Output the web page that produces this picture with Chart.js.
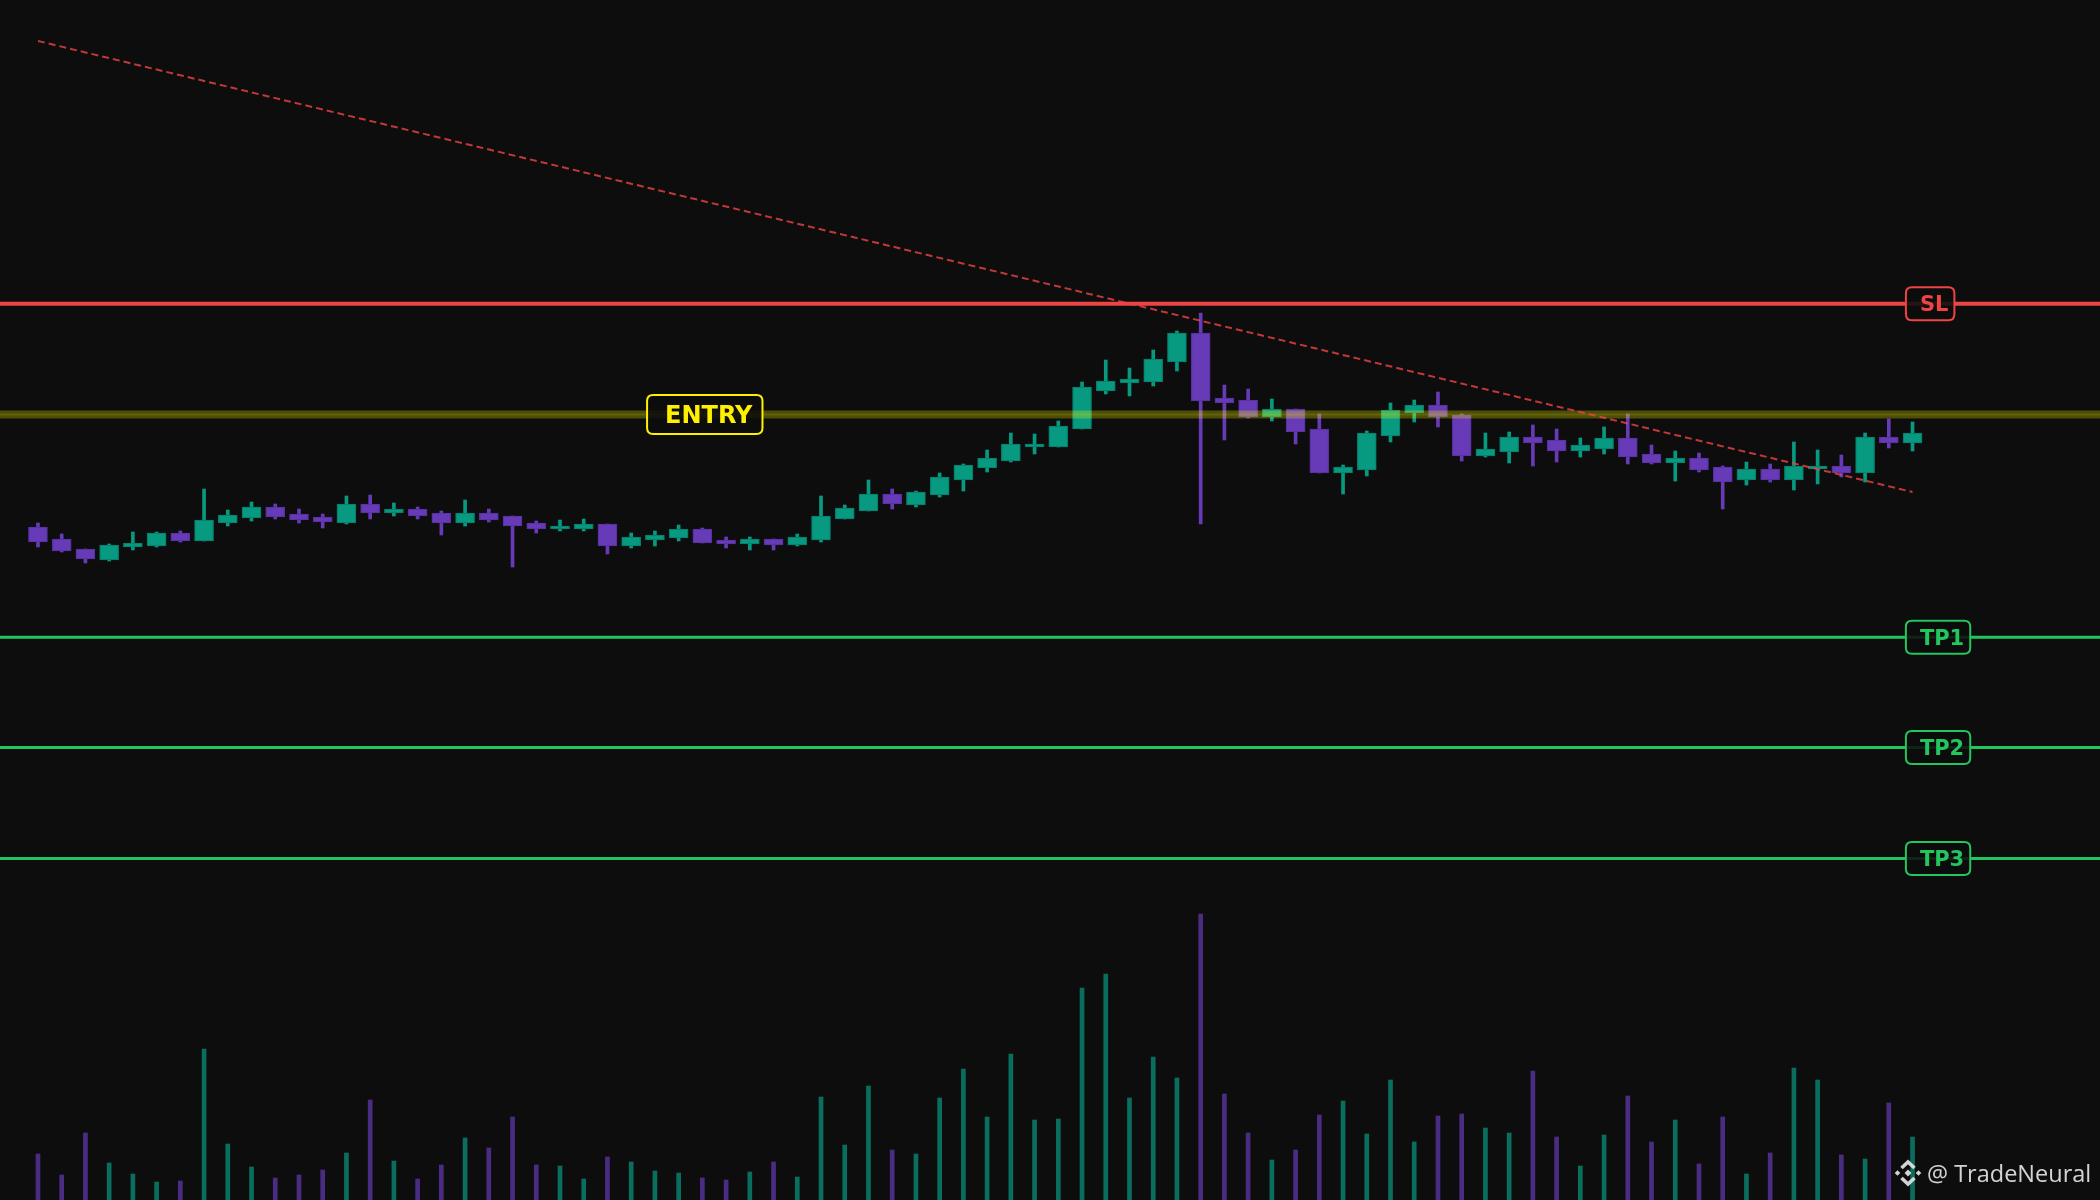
<!DOCTYPE html>
<html>
<head>
<meta charset="utf-8">
<title>TradeNeural setup</title>
<script src="https://cdn.jsdelivr.net/npm/chart.js@4.4.1/dist/chart.umd.min.js"></script>
<style>
  html, body { margin: 0; padding: 0; background: #0d0d0d; overflow: hidden; }
  #wrap { width: 2100px; height: 1200px; position: relative; }
</style>
</head>
<body>
<div id="wrap"><canvas id="chart"></canvas></div>
<script>
// OHLC per candle
const opens = [
  2.073, 2.061, 2.051, 2.040, 2.053, 2.054, 2.067, 2.059, 2.077, 2.082,
  2.093, 2.086, 2.083, 2.077, 2.096, 2.087, 2.091, 2.087, 2.077, 2.087,
  2.084, 2.077, 2.071, 2.071, 2.076, 2.054, 2.060, 2.062, 2.071, 2.060,
  2.056, 2.061, 2.055, 2.060, 2.081, 2.089, 2.106, 2.095, 2.105, 2.120,
  2.132, 2.139, 2.153, 2.153, 2.171, 2.209, 2.217, 2.218, 2.238, 2.267,
  2.202, 2.200, 2.183, 2.191, 2.171, 2.127, 2.130, 2.164, 2.187, 2.195,
  2.185, 2.144, 2.148, 2.163, 2.160, 2.149, 2.151, 2.162, 2.146, 2.137,
  2.142, 2.133, 2.120, 2.131, 2.120, 2.131, 2.134, 2.127, 2.163, 2.157
];
const highs = [
  2.077, 2.066, 2.051, 2.056, 2.068, 2.068, 2.069, 2.111, 2.090, 2.098,
  2.096, 2.091, 2.086, 2.104, 2.105, 2.097, 2.093, 2.089, 2.100, 2.091,
  2.084, 2.079, 2.080, 2.081, 2.076, 2.067, 2.069, 2.075, 2.072, 2.063,
  2.063, 2.061, 2.066, 2.104, 2.095, 2.120, 2.111, 2.109, 2.127, 2.136,
  2.150, 2.167, 2.166, 2.179, 2.218, 2.240, 2.232, 2.250, 2.269, 2.287,
  2.215, 2.211, 2.201, 2.191, 2.186, 2.135, 2.169, 2.197, 2.200, 2.208,
  2.186, 2.167, 2.168, 2.175, 2.171, 2.162, 2.173, 2.186, 2.155, 2.149,
  2.147, 2.134, 2.138, 2.136, 2.158, 2.150, 2.145, 2.167, 2.181, 2.178
];
const lows = [
  2.053, 2.048, 2.037, 2.039, 2.050, 2.053, 2.058, 2.059, 2.074, 2.079,
  2.081, 2.077, 2.072, 2.076, 2.081, 2.084, 2.081, 2.065, 2.074, 2.078,
  2.033, 2.067, 2.069, 2.069, 2.046, 2.052, 2.054, 2.059, 2.057, 2.052,
  2.050, 2.050, 2.054, 2.058, 2.081, 2.089, 2.091, 2.093, 2.103, 2.109,
  2.128, 2.138, 2.146, 2.153, 2.171, 2.206, 2.204, 2.214, 2.229, 2.076,
  2.160, 2.182, 2.179, 2.156, 2.127, 2.106, 2.124, 2.158, 2.178, 2.173,
  2.139, 2.143, 2.137, 2.134, 2.138, 2.143, 2.146, 2.136, 2.136, 2.119,
  2.128, 2.091, 2.115, 2.118, 2.110, 2.116, 2.123, 2.118, 2.152, 2.149
];
const closes = [
  2.058, 2.049, 2.041, 2.055, 2.057, 2.067, 2.059, 2.080, 2.085, 2.093,
  2.083, 2.080, 2.078, 2.096, 2.087, 2.091, 2.084, 2.077, 2.087, 2.080,
  2.074, 2.071, 2.074, 2.076, 2.054, 2.063, 2.065, 2.071, 2.057, 2.056,
  2.061, 2.055, 2.063, 2.084, 2.092, 2.106, 2.096, 2.108, 2.123, 2.135,
  2.142, 2.156, 2.156, 2.174, 2.213, 2.219, 2.221, 2.241, 2.267, 2.199,
  2.197, 2.183, 2.191, 2.168, 2.127, 2.133, 2.167, 2.190, 2.195, 2.183,
  2.144, 2.151, 2.163, 2.157, 2.149, 2.155, 2.162, 2.143, 2.137, 2.142,
  2.130, 2.118, 2.131, 2.120, 2.134, 2.134, 2.127, 2.163, 2.157, 2.167
];
const volumes = [
  46, 25, 67, 37, 26, 18, 19, 151, 56, 33,
  22, 25, 30, 47, 100, 39, 21, 35, 62, 52,
  83, 35, 34, 21, 43, 38, 29, 27, 22, 20,
  28, 38, 23, 103, 55, 114, 50, 46, 102, 131,
  83, 146, 80, 81, 212, 226, 102, 143, 122, 286,
  106, 67, 40, 50, 85, 99, 66, 120, 58, 84,
  86, 72, 67, 129, 63, 34, 65, 104, 58, 80,
  36, 83, 26, 47, 132, 120, 45, 41, 97, 63
];

// trade levels
const ENTRY = 2.1855;
const SL = 2.2963;
const TP1 = 1.9627;
const TP2 = 1.8525;
const TP3 = 1.7416;

// descending trend line: candle index -> price
const trendX = [0, 79];
const trendY = [2.559, 2.108];

const X_MIN = -1.6;
const X_MAX = 86.9;

const UP = '#089981';
const DOWN = '#673ab7';

const isUp = opens.map((o, i) => closes[i] >= o);
const candleColors = isUp.map(u => u ? UP : DOWN);
const edgeColors = isUp.map(u => u ? '#067d6a' : '#57309e');
const volColors = isUp.map(u => u ? 'rgba(8,153,129,0.7)' : 'rgba(103,58,183,0.7)');

const hLine = (y) => [{ x: X_MIN, y: y }, { x: X_MAX, y: y }];

// boxed labels on the levels
const levelLabels = [
  { text: 'ENTRY', value: ENTRY, at: 25.67, color: '#fff000', font: 24, h: 39, padL: 18, padR: 10 },
  { text: 'SL', value: SL, at: 78.72, color: '#ef4444', font: 21, h: 33, padL: 14, padR: 6 },
  { text: 'TP1', value: TP1, at: 78.72, color: '#22c55e', font: 21, h: 33, padL: 14, padR: 6 },
  { text: 'TP2', value: TP2, at: 78.72, color: '#22c55e', font: 21, h: 33, padL: 14, padR: 6 },
  { text: 'TP3', value: TP3, at: 78.72, color: '#22c55e', font: 21, h: 33, padL: 14, padR: 6 }
];

function roundRect(ctx, x, y, w, h, r) {
  ctx.beginPath();
  ctx.moveTo(x + r, y);
  ctx.lineTo(x + w - r, y);
  ctx.quadraticCurveTo(x + w, y, x + w, y + r);
  ctx.lineTo(x + w, y + h - r);
  ctx.quadraticCurveTo(x + w, y + h, x + w - r, y + h);
  ctx.lineTo(x + r, y + h);
  ctx.quadraticCurveTo(x, y + h, x, y + h - r);
  ctx.lineTo(x, y + r);
  ctx.quadraticCurveTo(x, y, x + r, y);
  ctx.closePath();
}

const labelPlugin = {
  id: 'levelLabels',
  afterDatasetsDraw(chart) {
    const ctx = chart.ctx;
    const xs = chart.scales.x;
    const ys = chart.scales.y;
    ctx.save();
    levelLabels.forEach(l => {
      ctx.font = `bold ${l.font}px "DejaVu Sans"`;
      const tw = ctx.measureText(l.text).width;
      const left = xs.getPixelForValue(l.at);
      const cy = ys.getPixelForValue(l.value);
      const w = tw + l.padL + l.padR;
      const top = cy - l.h / 2;
      roundRect(ctx, left, top, w, l.h, 6);
      ctx.fillStyle = 'rgba(13,13,13,0.88)';
      ctx.fill();
      ctx.lineWidth = 2;
      ctx.strokeStyle = l.color;
      ctx.stroke();
      ctx.fillStyle = l.color;
      ctx.textAlign = 'left';
      ctx.textBaseline = 'alphabetic';
      ctx.fillText(l.text, left + l.padL, cy + l.font * 0.36);
    });
    ctx.restore();
  },
  afterDraw(chart) {
    // watermark, bottom right
    const ctx = chart.ctx;
    const cx = 1908, cy = 1173;
    ctx.save();
    ctx.fillStyle = 'rgba(228,228,228,0.92)';
    ctx.strokeStyle = 'rgba(228,228,228,0.92)';
    const diamond = (x, y, r) => {
      ctx.beginPath();
      ctx.moveTo(x, y - r); ctx.lineTo(x + r, y); ctx.lineTo(x, y + r); ctx.lineTo(x - r, y);
      ctx.closePath();
      ctx.fill();
    };
    diamond(cx, cy, 3.5);
    diamond(cx - 10.5, cy, 2.8);
    diamond(cx + 10.5, cy, 2.8);
    ctx.lineWidth = 3.6;
    ctx.lineJoin = 'miter';
    ctx.beginPath();
    ctx.moveTo(cx - 6.5, cy - 5); ctx.lineTo(cx, cy - 11); ctx.lineTo(cx + 6.5, cy - 5);
    ctx.stroke();
    ctx.beginPath();
    ctx.moveTo(cx - 6.5, cy + 5); ctx.lineTo(cx, cy + 11); ctx.lineTo(cx + 6.5, cy + 5);
    ctx.stroke();
    ctx.font = '23.5px "Open Sans"';
    ctx.textAlign = 'left';
    ctx.textBaseline = 'alphabetic';
    ctx.fillText('@ TradeNeural', 1927, 1182);
    ctx.restore();
  }
};

const ctx = document.getElementById('chart').getContext('2d');
new Chart(ctx, {
  type: 'bar',
  data: {
    datasets: [
      {
        label: 'Volume',
        data: volumes.map((v, i) => ({ x: i, y: v })),
        yAxisID: 'vol',
        backgroundColor: volColors,
        barThickness: 4,
        grouped: false,
        order: 9
      },
      {
        label: 'Wick',
        data: lows.map((l, i) => ({ x: i, y: [l, highs[i]] })),
        yAxisID: 'y',
        backgroundColor: candleColors,
        barThickness: 3,
        grouped: false,
        order: 8
      },
      {
        label: 'Body',
        data: opens.map((o, i) => ({ x: i, y: [o, closes[i]] })),
        yAxisID: 'y',
        backgroundColor: candleColors,
        borderColor: edgeColors,
        borderWidth: 1.2,
        borderSkipped: false,
        minBarLength: 3,
        barThickness: 19,
        grouped: false,
        order: 7
      },
      {
        type: 'line',
        label: 'Entry band',
        data: hLine(ENTRY),
        yAxisID: 'y',
        borderColor: 'rgba(255,255,0,0.27)',
        borderWidth: 8,
        pointRadius: 0,
        order: 4
      },
      {
        type: 'line',
        label: 'Entry core',
        data: hLine(ENTRY),
        yAxisID: 'y',
        borderColor: 'rgba(255,255,0,0.12)',
        borderWidth: 2,
        pointRadius: 0,
        order: 3
      },
      {
        type: 'line',
        label: 'SL',
        data: hLine(SL),
        yAxisID: 'y',
        borderColor: '#ef4444',
        borderWidth: 4,
        pointRadius: 0,
        order: 2
      },
      {
        type: 'line',
        label: 'TP1',
        data: hLine(TP1),
        yAxisID: 'y',
        borderColor: '#22c55e',
        borderWidth: 3,
        pointRadius: 0,
        order: 2
      },
      {
        type: 'line',
        label: 'TP2',
        data: hLine(TP2),
        yAxisID: 'y',
        borderColor: '#22c55e',
        borderWidth: 3,
        pointRadius: 0,
        order: 2
      },
      {
        type: 'line',
        label: 'TP3',
        data: hLine(TP3),
        yAxisID: 'y',
        borderColor: '#22c55e',
        borderWidth: 3,
        pointRadius: 0,
        order: 2
      },
      {
        type: 'line',
        label: 'Trend',
        data: trendX.map((x, i) => ({ x: x, y: trendY[i] })),
        yAxisID: 'y',
        borderColor: 'rgba(239,68,68,0.8)',
        borderWidth: 2,
        borderDash: [7, 4],
        pointRadius: 0,
        order: 1
      }
    ]
  },
  options: {
    responsive: true,
    maintainAspectRatio: false,
    animation: false,
    layout: { padding: 0 },
    plugins: {
      legend: { display: false },
      tooltip: { enabled: false }
    },
    scales: {
      x: { type: 'linear', min: X_MIN, max: X_MAX, offset: false, display: false },
      y: { type: 'linear', min: 1.4, max: 2.6, display: false },
      vol: { type: 'linear', min: 0, max: 1200, display: false }
    }
  },
  plugins: [labelPlugin]
});
</script>
</body>
</html>
